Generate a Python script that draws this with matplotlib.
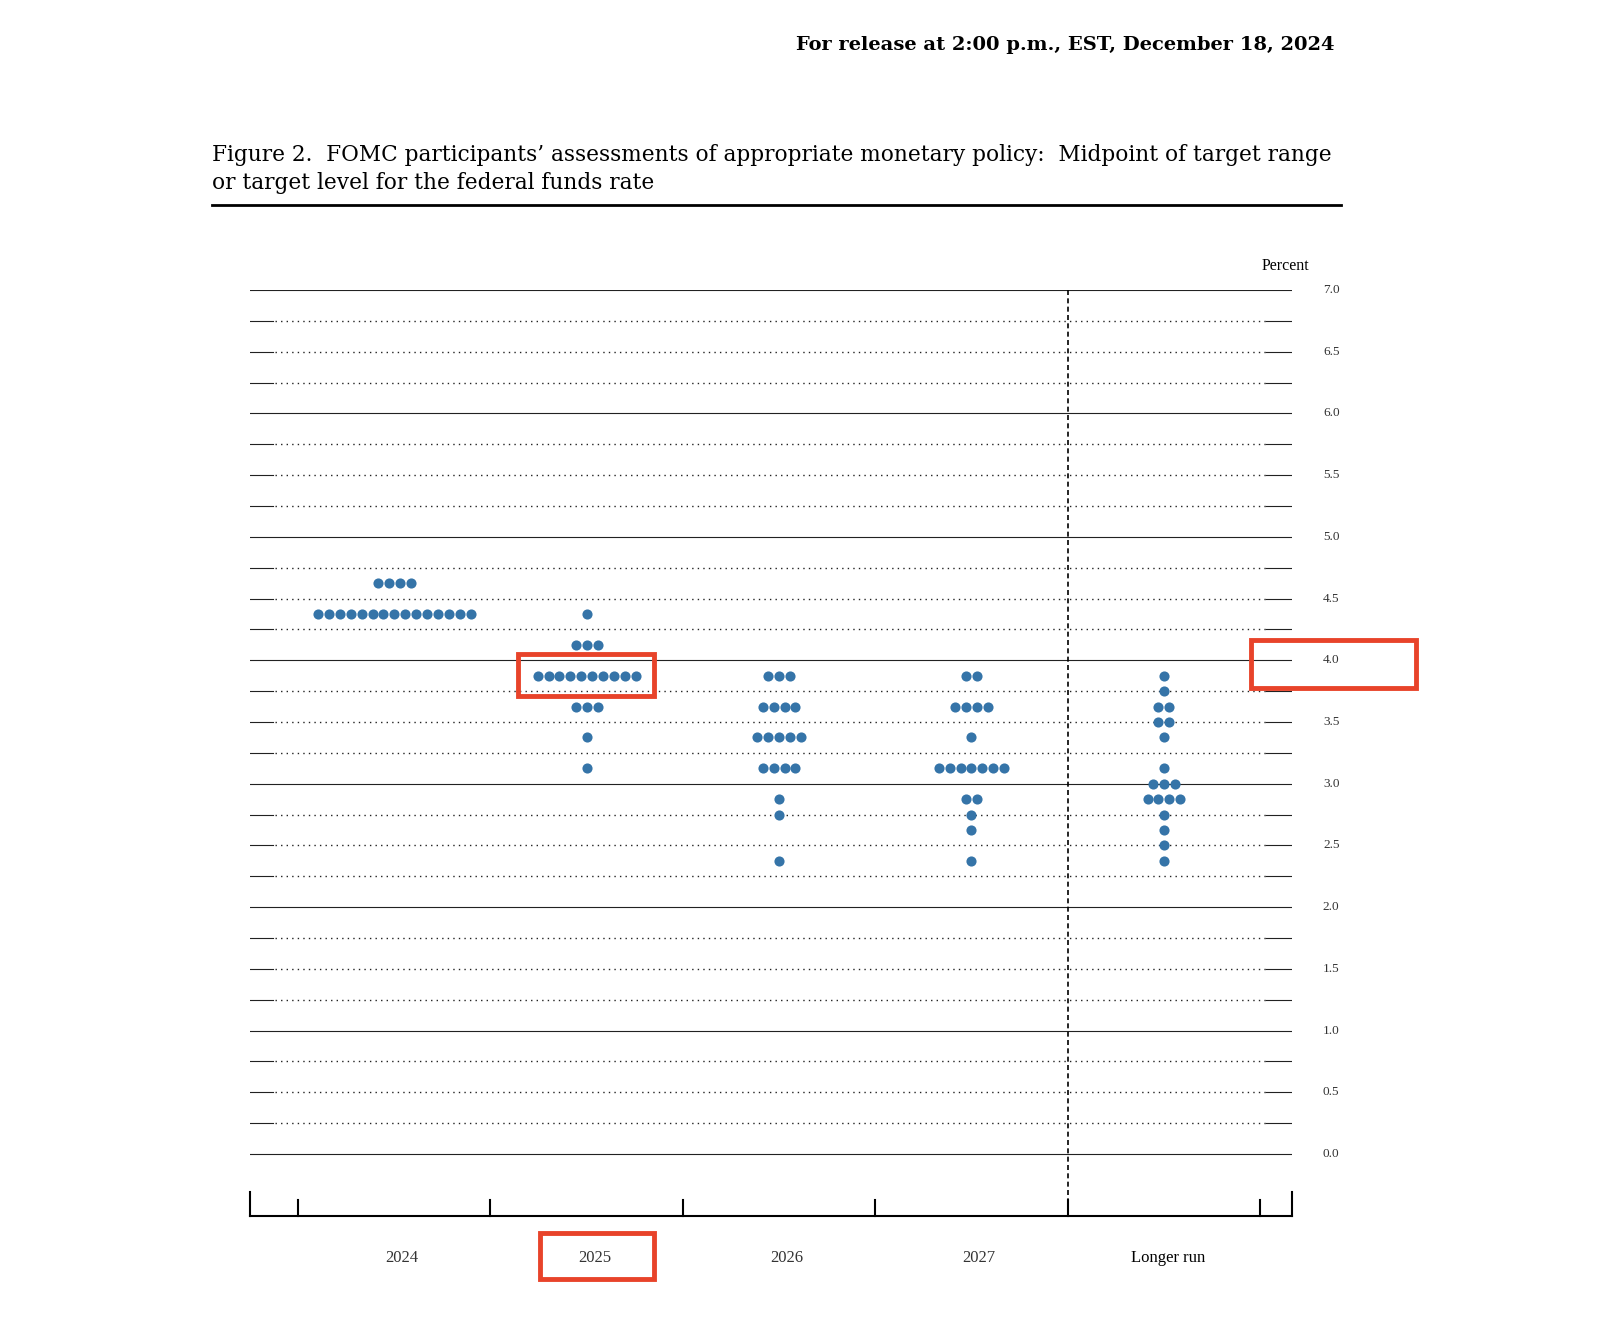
import matplotlib.pyplot as plt
import numpy as np
from matplotlib.patches import Rectangle

plt.rcParams["font.family"] = ["Liberation Serif", "DejaVu Serif"]

columns = ["2024", "2025", "2026", "2027", "Longer run"]
# (rate, number of participants) per column
dots_2024 = [(4.625, 4), (4.375, 15)]
dots_2025 = [(4.375, 1), (4.125, 3), (3.875, 10), (3.625, 3), (3.375, 1), (3.125, 1)]
dots_2026 = [(3.875, 3), (3.625, 4), (3.375, 5), (3.125, 4), (2.875, 1), (2.75, 1), (2.375, 1)]
dots_2027 = [(3.875, 2), (3.625, 4), (3.375, 1), (3.125, 7), (2.875, 2), (2.75, 1), (2.625, 1), (2.375, 1)]
dots_longer = [(3.875, 1), (3.75, 1), (3.625, 2), (3.5, 2), (3.375, 1), (3.125, 1), (3.0, 3),
               (2.875, 4), (2.75, 1), (2.625, 1), (2.5, 1), (2.375, 1)]
all_dots = [dots_2024, dots_2025, dots_2026, dots_2027, dots_longer]
ytick_labels = np.arange(0, 7.01, 0.5)

W, H = 1598, 1332
fig = plt.figure(figsize=(W / 100, H / 100), dpi=100)
ax = fig.add_axes([250 / W, 1 - 1216 / H, (1292 - 250) / W, (1216 - 290) / H])
ax.set_xlim(0.25, 5.666)
ax.set_ylim(-0.502, 7.0)
ax.axis("off")

dot_color = "#3574a8"
step = 0.0566
for i, col in enumerate(all_dots):
    center = i + 1
    for rate, n in col:
        xs = center + (np.arange(n) - (n - 1) / 2) * step
        ax.plot(xs, [rate] * n, "o", color=dot_color, markersize=7.3, markeredgewidth=0, zorder=3)

# horizontal grid lines
for level in np.arange(0, 7.01, 0.25):
    if abs(level - round(level)) < 1e-9:
        ax.plot([0.25, 5.666], [level, level], color="#222222", lw=0.8, zorder=1)
    else:
        ax.plot([0.38, 5.53], [level, level], color="#222222", lw=1.0, ls=(0, (1, 3)), zorder=1)
        ax.plot([0.25, 0.37], [level, level], color="#222222", lw=0.8, zorder=1)
        ax.plot([5.53, 5.666], [level, level], color="#222222", lw=0.8, zorder=1)

for v in ytick_labels:
    ax.text(5.87, v, f"{v:.1f}", fontsize=9.5, ha="center", va="center", color="#333333")
ax.text(5.63, 7.13, "Percent", fontsize=11.5, ha="center", va="bottom")

# vertical dashed separator
ax.plot([4.5, 4.5], [7.0, -0.5], color="black", lw=1.2, ls=(0, (3, 2)), zorder=2)

# bottom axis
ax.plot([0.25, 5.666], [-0.5, -0.5], color="black", lw=1.5, clip_on=False)
for b in [0.5, 1.5, 2.5, 3.5, 4.5, 5.5]:
    ax.plot([b, b], [-0.5, -0.37], color="black", lw=1.5, clip_on=False)
for b in [0.25, 5.666]:
    ax.plot([b, b], [-0.5, -0.305], color="black", lw=1.5, clip_on=False)
label_x = [1.04, 2.04, 3.04, 4.04, 5.02]
for lx, name in zip(label_x, columns):
    ax.text(lx, -0.84, name, fontsize=12, ha="center", va="center",
            color="black" if name == "Longer run" else "#333333")

# header, title, rule
fig.text(1334 / W, 1 - 45 / H, "For release at 2:00 p.m., EST, December 18, 2024",
         fontsize=14, fontweight="bold", family="DejaVu Serif", ha="right", va="center")
fig.text(212 / W, 1 - 155 / H,
         "Figure 2.  FOMC participants\u2019 assessments of appropriate monetary policy:  Midpoint of target range",
         fontsize=15.6, family="DejaVu Serif", ha="left", va="center")
fig.text(212 / W, 1 - 183 / H, "or target level for the federal funds rate",
         fontsize=15.6, family="DejaVu Serif", ha="left", va="center")
fig.add_artist(plt.Line2D([212 / W, 1341 / W], [1 - 205 / H, 1 - 205 / H], color="black", lw=2))

# red highlight boxes
for x0, y0, x1, y1 in [(518, 654, 654, 696), (1251, 640, 1416, 688), (540, 1233, 654, 1279)]:
    fig.add_artist(Rectangle((x0 / W, 1 - y1 / H), (x1 - x0) / W, (y1 - y0) / H,
                             fill=False, edgecolor="#e8432a", lw=3.5))

fig.savefig("out.png", dpi=100)
